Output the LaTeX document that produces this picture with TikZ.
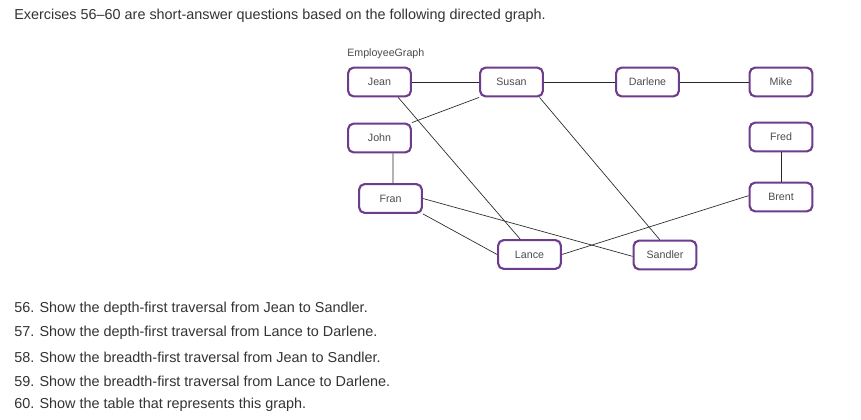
\documentclass[tikz,border=0pt]{standalone}
\usepackage{fontspec}
\setmainfont{Liberation Sans}
\definecolor{txt}{RGB}{51,51,51}
\definecolor{boxp}{RGB}{110,60,140}
\definecolor{boxl}{RGB}{205,180,225}
\definecolor{edge}{RGB}{40,40,40}
\usetikzlibrary{calc}
\tikzset{
  emp/.style={draw=boxp, line width=1.6pt, rounded corners=4pt, minimum width=47pt, minimum height=21.5pt, inner sep=0pt, fill=white, font=\fontsize{8}{9}\selectfont, text=black!70,
    append after command={\pgfextra{\draw[boxl, line width=1.2pt, rounded corners=3pt] ($(\tikzlastnode.south west)+(1.5pt,1.5pt)$) rectangle ($(\tikzlastnode.north east)-(1.5pt,1.5pt)$);}}},
  con/.style={draw=edge, line width=0.5pt},
  q/.style={anchor=west, font=\fontsize{10.8}{12}\selectfont, text=txt, inner sep=0pt}
}
\begin{document}
\begin{tikzpicture}[x=0.75pt,y=-0.75pt]
\useasboundingbox (0,0) rectangle (861,419);
\fill[white] (0,0) rectangle (861,419);
\node[q] (hdr) at (14,16) {Exercises 56–60 are short-answer questions based on the following directed graph.};
\node[anchor=west, inner sep=0pt, font=\fontsize{8}{9}\selectfont, text=black!70] (title) at (347,54) {EmployeeGraph};
\node[emp] (jean) at (379.5,82) {Jean};
\node[emp] (susan) at (511.5,82) {Susan};
\node[emp] (darlene) at (647.5,82) {Darlene};
\node[emp] (mike) at (781,82) {Mike};
\node[emp] (john) at (379.5,138) {John};
\node[emp] (fred) at (781,137) {Fred};
\node[emp] (fran) at (390.5,198.5) {Fran};
\node[emp] (brent) at (781,197) {Brent};
\node[emp] (lance) at (529.5,254.5) {Lance};
\node[emp] (sandler) at (665,255) {Sandler};
\draw[con] (jean.east) -- (susan.west);
\draw[con] (susan.east) -- (darlene.west);
\draw[con] (darlene.east) -- (mike.west);
\draw[con] (susan.south west) -- (john.north east);
\draw[con] ($(jean.south)+(14pt,0)$) -- ($(lance.north)+(-7pt,0)$);
\draw[con] ($(susan.south)+(21pt,0)$) -- ($(sandler.north)+(-4pt,0)$);
\draw[con] ($(john.south)+(10.1pt,0)$) -- ($(fran.north)+(1.9pt,0)$);
\draw[con] (fred.south) -- (brent.north);
\draw[con] (fran.south east) -- (lance.west);
\draw[con] (fran.east) -- ($(sandler.west)+(0,-1pt)$);
\draw[con] ($(brent.west)+(0,1pt)$) -- (lance.east);
\node[q] (q56) at (14,309) {56. Show the depth-first traversal from Jean to Sandler.};
\node[q] (q57) at (14,333) {57. Show the depth-first traversal from Lance to Darlene.};
\node[q] (q58) at (14,357) {58. Show the breadth-first traversal from Jean to Sandler.};
\node[q] (q59) at (14,381) {59. Show the breadth-first traversal from Lance to Darlene.};
\node[q] (q60) at (14,405) {60. Show the table that represents this graph.};
\end{tikzpicture}
\end{document}
